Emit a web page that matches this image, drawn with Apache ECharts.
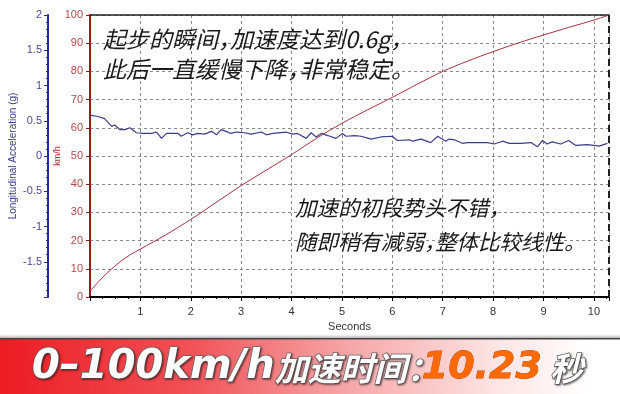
<!DOCTYPE html>
<html>
<head>
<meta charset="utf-8">
<script src="https://cdn.jsdelivr.net/npm/echarts@6/dist/echarts.min.js"></script>
<style>
html,body{margin:0;padding:0;background:#fff;}
#chart{width:620px;height:394px;}
</style>
</head>
<body>
<div id="chart"></div>
<script>
// ---- data ----
var xMax = 10.3;
var speedTime = [0, 0.2, 0.4, 0.6, 0.8, 1.0, 1.5, 2.0, 2.5, 3.0, 3.5, 4.0, 4.5, 5.0, 5.5, 6.0, 6.5, 7.0, 7.5, 8.0, 8.5, 9.0, 9.5, 10.0, 10.3];
var speed     = [2, 6, 9.5, 12.5, 15, 17, 22, 27.5, 33.5, 39.5, 45, 50.5, 56.3, 61.6, 66.3, 70.8, 75.5, 80, 83.7, 87, 90.1, 92.9, 95.6, 98.2, 100];
var accelTime = [0.00,0.16,0.29,0.43,0.49,0.59,0.69,0.79,0.92,1.05,1.22,1.32,1.42,1.52,1.75,1.81,1.94,2.04,2.14,2.27,2.41,2.51,2.60,2.70,2.80,2.90,3.07,3.20,3.40,3.50,3.63,3.89,4.02,4.12,4.29,4.39,4.49,4.59,4.72,4.88,5.01,5.08,5.25,5.38,5.58,5.77,6.00,6.10,6.34,6.40,6.57,6.76,6.90,7.06,7.13,7.23,7.39,7.49,7.89,8.02,8.19,8.32,8.55,8.75,8.88,8.98,9.07,9.17,9.34,9.50,9.64,9.87,10.00,10.10,10.27];
var accel     = [0.58,0.56,0.53,0.42,0.44,0.375,0.375,0.40,0.33,0.32,0.32,0.34,0.25,0.32,0.32,0.28,0.33,0.30,0.32,0.31,0.35,0.30,0.375,0.35,0.32,0.34,0.33,0.31,0.34,0.30,0.32,0.34,0.31,0.32,0.25,0.33,0.27,0.32,0.29,0.25,0.32,0.28,0.29,0.28,0.24,0.27,0.28,0.22,0.23,0.21,0.24,0.19,0.28,0.21,0.24,0.23,0.18,0.19,0.19,0.17,0.21,0.18,0.18,0.19,0.13,0.22,0.17,0.20,0.17,0.22,0.15,0.16,0.15,0.14,0.18];
var note1 = [['起步的瞬间', '加速度达到0.6g', ''], ['此后一直缓慢下降', '非常稳定。']];
var note2 = [['加速的初段势头不错', ''], ['随即稍有减弱', '整体比较线性。']];
var bannerPre = '0–100km/h';
var bannerCjk = '加速时间';
var bannerColon = '：';
var bannerVal = '10.23';
var bannerUnit = '秒';

function zip(a, b) { return a.map(function (v, i) { return [v, b[i]]; }); }
// build rich-text lines: segments joined by a narrow comma token
function richLines(lines) {
  return lines.map(function (segs) {
    return segs.map(function (s, i) {
      var out = s ? '{t|' + s + '}' : '';
      if (i < segs.length - 1) out += '{p|，}';
      return out;
    }).join('');
  }).join('\n');
}

var chart = echarts.init(document.getElementById('chart'), null, {renderer: 'canvas'});
var cjk = '"Noto Sans CJK SC", sans-serif';
var lat = '"Liberation Sans", Arial, sans-serif';
var shadowTxt = {stroke: '#6a6a6a', lineWidth: 1.5, textShadowColor: 'rgba(0,0,0,0.45)', textShadowBlur: 2, textShadowOffsetX: 1, textShadowOffsetY: 1};
function ext(a, b) { var o = {}; for (var k in a) o[k] = a[k]; for (var j in b) o[j] = b[j]; return o; }

var option = {
  backgroundColor: '#ffffff',
  animation: false,
  grid: {left: 90, right: 11, top: 15, bottom: 97, containLabel: false, outerBoundsMode: 'none'},
  xAxis: [{
    type: 'value', min: 0, max: xMax, interval: 1, position: 'bottom',
    axisLine: {show: true, onZero: false, lineStyle: {color: '#000', width: 2}},
    axisTick: {show: true, length: 4, lineStyle: {color: '#000'}},
    minorTick: {show: true, splitNumber: 4, length: 2, lineStyle: {color: '#000'}},
    axisLabel: {margin: 9, color: '#333', fontSize: 11, fontFamily: lat,
      showMaxLabel: false,
      formatter: function (v) { return (Math.abs(v - Math.round(v)) < 1e-6 && v > 0) ? String(Math.round(v)) : ''; }},
    splitLine: {show: true, lineStyle: {color: '#8a8a8a', type: [3, 3], width: 1}},
    name: 'Seconds', nameLocation: 'middle', nameGap: 24, nameMoveOverlap: false,
    nameTextStyle: {color: '#333', fontSize: 11, fontFamily: lat}
  }, {
    type: 'value', min: 0, max: xMax, position: 'top',
    axisLine: {show: true, onZero: false, lineStyle: {color: '#222', width: 1.5}},
    axisTick: {show: false}, axisLabel: {show: false}, splitLine: {show: false}
  }],
  yAxis: [{
    type: 'value', min: 0, max: 100, interval: 10, position: 'left',
    axisLine: {show: true, onZero: false, lineStyle: {color: '#a01818', width: 2}},
    axisTick: {show: true, length: 4, lineStyle: {color: '#a01818'}},
    axisLabel: {margin: 7, color: '#b04848', fontSize: 11, fontFamily: lat},
    splitLine: {show: true, lineStyle: {color: '#8a8a8a', type: [3, 3], width: 1}},
    name: 'km/h', nameLocation: 'middle', nameGap: 28, nameMoveOverlap: false,
    nameTextStyle: {color: '#b03030', fontSize: 9, fontFamily: lat}
  }, {
    type: 'value', min: -2, max: 2, interval: 0.5, position: 'left', offset: 42,
    axisLine: {show: true, onZero: false, lineStyle: {color: '#2a2aa0', width: 2}},
    axisTick: {show: true, length: 4, lineStyle: {color: '#2a2aa0'}},
    minorTick: {show: true, splitNumber: 5, length: 2, lineStyle: {color: '#2a2aa0'}},
    axisLabel: {margin: 6, color: '#4a4a9a', fontSize: 11, fontFamily: lat,
      formatter: function (v) { return v <= -2 ? '' : String(v); }},
    splitLine: {show: false},
    name: 'Longitudinal Acceleration (g)', nameLocation: 'middle', nameGap: 30, nameMoveOverlap: false,
    nameTextStyle: {color: '#3a3a8a', fontSize: 10, fontFamily: lat}
  }],
  series: [{
    type: 'line', xAxisIndex: 0, yAxisIndex: 0, data: zip(speedTime, speed),
    showSymbol: false, smooth: 0.3, lineStyle: {color: '#a83040', width: 1}, z: 3,
    markLine: {silent: true, symbol: ['none', 'none'], label: {show: false},
      lineStyle: {color: '#222', type: [7, 4], width: 2},
      data: [{xAxis: xMax}]}
  }, {
    type: 'line', xAxisIndex: 0, yAxisIndex: 1, data: zip(accelTime, accel),
    showSymbol: false, lineStyle: {color: '#3c3c8c', width: 1.2}, z: 4
  }],
  graphic: [
    {type: 'text', left: 103, top: 28, z: 10, style: {text: richLines(note1),
      rich: {t: {fill: '#1a1a1a', fontFamily: cjk, fontStyle: 'italic', fontSize: 23, lineHeight: 30},
             p: {fill: '#1a1a1a', fontFamily: cjk, fontStyle: 'italic', fontSize: 23, lineHeight: 30, width: 12}}}},
    {type: 'text', left: 295, top: 197, z: 10, style: {text: richLines(note2),
      rich: {t: {fill: '#1a1a1a', fontFamily: cjk, fontStyle: 'italic', fontSize: 21.5, lineHeight: 34},
             p: {fill: '#1a1a1a', fontFamily: cjk, fontStyle: 'italic', fontSize: 21.5, lineHeight: 34, width: 11}}}},
    {type: 'rect', shape: {x: 0, y: 333, width: 620, height: 6}, z: 20,
      style: {fill: new echarts.graphic.LinearGradient(0, 0, 0, 1, [{offset: 0, color: 'rgba(255,255,255,0)'}, {offset: 1, color: 'rgba(90,90,90,0.7)'}])}},
    {type: 'rect', shape: {x: 0, y: 339, width: 620, height: 55}, z: 20,
      style: {fill: new echarts.graphic.LinearGradient(0, 0, 1, 0, [
        {offset: 0, color: '#ec1c24'}, {offset: 0.3, color: '#f05055'}, {offset: 0.55, color: '#f5a3a5'},
        {offset: 0.8, color: '#fde4e4'}, {offset: 0.95, color: '#ffffff'}])}},
    {type: 'rect', shape: {x: 0, y: 338, width: 620, height: 1.5}, z: 21, style: {fill: '#444'}},
    {type: 'text', x: 32, y: 368, z: 22, style: {
      text: '{a|' + bannerPre + '}{c|' + bannerCjk + '}{k|' + bannerColon + '}{n|' + bannerVal + '}{s| }{c|' + bannerUnit + '}',
      verticalAlign: 'middle', align: 'left',
      rich: {
        a: ext(shadowTxt, {fontFamily: '"DejaVu Sans", sans-serif', fontWeight: 'bold', fontStyle: 'italic', fontSize: 40, fill: '#ffffff'}),
        c: ext(shadowTxt, {fontFamily: cjk, fontWeight: 'bold', fontStyle: 'italic', fontSize: 33, fill: '#ffffff'}),
        k: ext(shadowTxt, {fontFamily: cjk, fontWeight: 'bold', fontStyle: 'italic', fontSize: 33, fill: '#ffffff', width: 15}),
        s: {fontSize: 33, width: 8},
        n: {fontFamily: '"DejaVu Sans", sans-serif', fontWeight: 'bold', fontStyle: 'italic', fontSize: 38,
          fill: '#ff6a00', stroke: '#c04a00', lineWidth: 0.8}
      }
    }}
  ]
};
chart.setOption(option);
</script>
</body>
</html>
